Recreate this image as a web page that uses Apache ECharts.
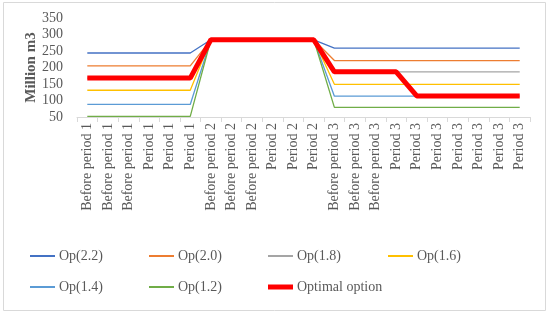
<!DOCTYPE html>
<html><head><meta charset="utf-8">
<script src="https://cdn.jsdelivr.net/npm/echarts@6/dist/echarts.min.js"></script>
<style>html,body{margin:0;padding:0;background:#fff}#c{width:550px;height:315px}</style>
</head><body><div id="c"></div>
<script>
var categories = ["Before period 1","Before period 1","Before period 1","Period 1","Period 1","Period 1",
  "Before period 2","Before period 2","Before period 2","Period 2","Period 2","Period 2",
  "Before period 3","Before period 3","Before period 3","Period 3","Period 3","Period 3","Period 3","Period 3","Period 3","Period 3"];
var op22 = [244,244,244,244,244,244,284,284,284,284,284,284,259,259,259,259,259,259,259,259,259,259];
var op20 = [205,205,205,205,205,205,284,284,284,284,284,284,221,221,221,221,221,221,221,221,221,221];
var op18 = [168,168,168,168,168,168,284,284,284,284,284,284,187,187,187,187,187,187,187,187,187,187];
var op16 = [131,131,131,131,131,131,284,284,284,284,284,284,149,149,149,149,149,149,149,149,149,149];
var op14 = [88,88,88,88,88,88,284,284,284,284,284,284,113,113,113,113,113,113,113,113,113,113];
var op12 = [52,52,52,52,52,52,284,284,284,284,284,284,79,79,79,79,79,79,79,79,79,79];
var optimal = [168,168,168,168,168,168,284,284,284,284,284,284,187,187,187,187,114,114,114,114,114,114];
var yTicks = {min:50, max:350, interval:50};

var font = "'Liberation Serif', serif";
var txt = '#595959';
var names = ['Op(2.2)','Op(2.0)','Op(1.8)','Op(1.6)','Op(1.4)','Op(1.2)','Optimal option'];
var colors = ['#4472C4','#ED7D31','#A5A5A5','#FFC000','#5B9BD5','#70AD47','#FF0000'];
var datas = [op22,op20,op18,op16,op14,op12,optimal];
var widths = [1.3,1.3,1.3,1.3,1.3,1.3,5];
var legPos = [[30,249],[149,249],[268,249],[388,249],[30,280],[149,280],[268,280]];

var series = names.map(function(n,i){
  return {name:n,type:'line',data:datas[i],symbol:'none',animation:false,
    lineStyle:{color:colors[i],width:widths[i]},itemStyle:{color:colors[i]},z:i===6?5:2};
});
var legends = names.map(function(n,i){
  return {data:[{name:n,icon:'rect',itemStyle:{color:colors[i]}}],left:legPos[i][0],top:legPos[i][1],
    padding:0,itemWidth:25,itemHeight:i===6?5:2,itemGap:0,
    textStyle:{fontFamily:font,fontSize:14,color:txt,padding:[0,0,0,-1]}};
});

var chart = echarts.init(document.getElementById('c'));
chart.setOption({
  animation:false,
  graphic:[{type:'rect',shape:{x:3.5,y:2.5,width:542,height:308},style:{fill:'none',stroke:'#D9D9D9',lineWidth:1},silent:true}],
  grid:{left:77,right:20,top:18,bottom:198},
  legend:legends,
  xAxis:{type:'category',data:categories,boundaryGap:true,
    axisLine:{lineStyle:{color:'#D9D9D9'}},
    axisTick:{show:true,interval:0,length:5,lineStyle:{color:'#D9D9D9'}},
    axisLabel:{interval:0,rotate:90,margin:6,fontFamily:font,fontSize:14,color:txt}},
  yAxis:{type:'value',min:yTicks.min,max:yTicks.max,interval:yTicks.interval,
    name:'Million m3',nameLocation:'middle',nameGap:38,nameMoveOverlap:false,
    nameTextStyle:{fontFamily:font,fontSize:15,fontWeight:'bold',color:txt},
    axisLine:{show:false},axisTick:{show:false},splitLine:{show:false},
    axisLabel:{margin:14,fontFamily:font,fontSize:14,color:txt}},
  series:series
});
</script></body></html>
